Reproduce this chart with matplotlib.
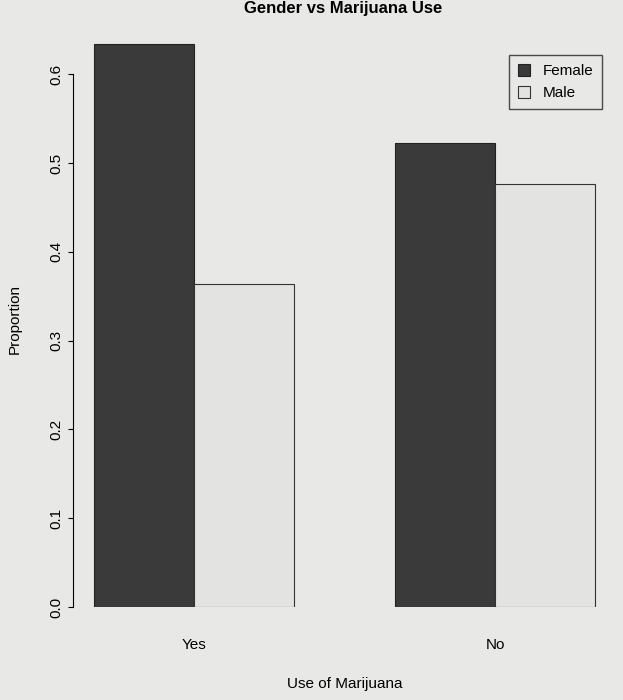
import matplotlib
matplotlib.use("Agg")
import matplotlib.pyplot as plt
import numpy as np

plt.rcParams['font.family'] = ['Liberation Sans', 'DejaVu Sans']

groups = ["Yes", "No"]
female = [0.634, 0.523]
male = [0.364, 0.476]

bg = "#e8e8e6"
fig = plt.figure(figsize=(6.23, 7), dpi=100, facecolor=bg)
ax = fig.add_axes([80/623, 93/700, 530/623, 577/700], facecolor=bg)
x = np.arange(len(groups))
w = 0.332
ax.bar(x - w/2, female, w, color="#3a3a3a", edgecolor="#222222", linewidth=0.8, label="Female")
ax.bar(x + w/2, male, w, color="#e3e3e1", edgecolor="#333333", linewidth=0.8, label="Male")
ax.set_xlim(-0.379, 1.382)
ax.set_ylim(0, 0.65)
for s in ["top", "right", "bottom"]:
    ax.spines[s].set_visible(False)
ax.spines["left"].set_bounds(0, 0.6)
ax.spines["left"].set_position(("outward", 5))
ax.set_yticks(np.arange(0, 0.61, 0.1))
ax.set_yticklabels([f"{v:.1f}" for v in np.arange(0, 0.61, 0.1)], rotation=90, va="center")
ax.set_xticks(x)
ax.set_xticklabels(groups)
ax.tick_params(axis="x", length=0, pad=22, labelsize=11)
ax.tick_params(axis="y", labelsize=11)
ax.set_xlabel("Use of Marijuana", labelpad=18, fontsize=11)
ax.set_ylabel("Proportion", fontsize=11, labelpad=20)
fig.text(343/623, 1-9/700, "Gender vs Marijuana Use", ha="center", va="center", fontsize=12, fontweight="bold")
leg = ax.legend(loc="upper right", bbox_to_anchor=(1.0, 0.97), frameon=True, fancybox=False,
                edgecolor="#222222", facecolor=bg, handlelength=0.8, handleheight=0.8, fontsize=11,
                borderpad=0.6)
fig.savefig("out.png", dpi=100, facecolor=bg)
